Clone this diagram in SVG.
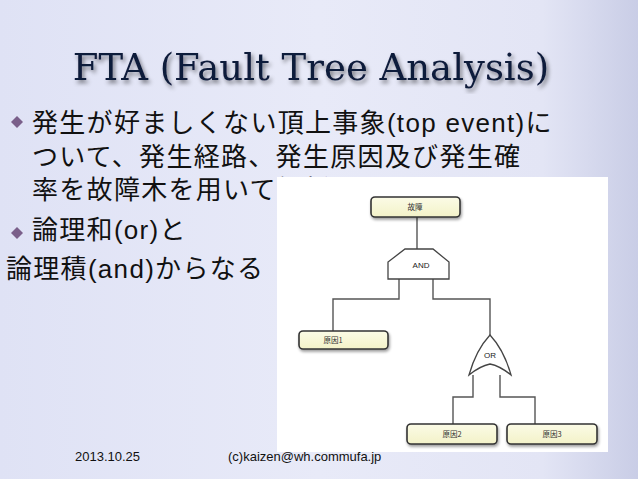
<svg xmlns="http://www.w3.org/2000/svg" width="638" height="479" viewBox="0 0 638 479">
<defs>
<linearGradient id="bg" x1="0" y1="0" x2="1" y2="0">
<stop offset="0" stop-color="#dfe2f5"/><stop offset="0.5" stop-color="#e8eaf8"/><stop offset="0.85" stop-color="#e3e5f5"/><stop offset="1" stop-color="#c9cde6"/>
</linearGradient>
<linearGradient id="box" x1="0" y1="0" x2="0" y2="1"><stop offset="0" stop-color="#fbfbe6"/><stop offset="1" stop-color="#f3f2c8"/></linearGradient>
<filter id="sh" x="-10%" y="-10%" width="130%" height="140%"><feGaussianBlur in="SourceAlpha" stdDeviation="1.5"/><feOffset dx="1" dy="2"/><feComponentTransfer><feFuncA type="linear" slope="0.4"/></feComponentTransfer><feMerge><feMergeNode/><feMergeNode in="SourceGraphic"/></feMerge></filter>
<filter id="tsh"><feGaussianBlur in="SourceAlpha" stdDeviation="2"/><feOffset dx="2" dy="3"/><feComponentTransfer><feFuncA type="linear" slope="0.5"/></feComponentTransfer><feMerge><feMergeNode/><feMergeNode in="SourceGraphic"/></feMerge></filter>
</defs>
<style>
.jp{font-family:"Liberation Sans","Noto Sans CJK JP",sans-serif;font-size:26px;fill:#111;letter-spacing:1.3px}
.box{fill:url(#box);stroke:#333;stroke-width:1.6;filter:url(#sh)}
.gate{fill:#fff;stroke:#444;stroke-width:1.3}
.lbl{font-family:"Noto Sans CJK JP",sans-serif;font-size:7.5px;fill:#333;text-anchor:middle}
.gl{font-family:"Liberation Sans",sans-serif;font-size:8px;fill:#222;text-anchor:middle}
.ln{fill:none;stroke:#555;stroke-width:1.4}
.ft{font-family:"Liberation Sans",sans-serif;font-size:13px;fill:#111}
</style>
<rect width="638" height="479" fill="url(#bg)"/>
<text x="311" y="80" text-anchor="middle" font-family="DejaVu Serif,serif" font-size="37" fill="#111a3a" filter="url(#tsh)">FTA (Fault Tree Analysis)</text>
<g class="jp">
<path d="M11 122 l6 -6 l6 6 l-6 6z" fill="#7a5f8a"/>
<text x="32" y="132">発生が好ましくない頂上事象(top event)に</text>
<text x="32" y="166">ついて、発生経路、発生原因及び発生確</text>
<text x="32" y="199">率を故障木を用いて解析</text>
<path d="M11 233 l6 -6 l6 6 l-6 6z" fill="#7a5f8a"/>
<text x="32" y="239">論理和(or)と</text>
<text x="6" y="278">論理積(and)からなる</text>
</g>
<rect x="277" y="177" width="331" height="275" fill="#fff"/>
<g id="connectors" class="ln">
<path d="M417 217 V249"/>
<path d="M399 279 V299 H333 V331"/>
<path d="M433 279 V299 H490 V335"/>
<path d="M473 375 V397 H453 V424"/>
<path d="M500 375 V397 H535 V424"/>
</g>
<g id="n-fault"><rect class="box" x="371" y="197" width="89" height="20" rx="4"/><text class="lbl" x="415" y="210">故障</text></g>
<g id="n-and"><path class="gate" d="M405 249 H433 L449 262 V279 H388 V262 Z"/><text class="gl" x="421" y="268">AND</text></g>
<g id="n-c1"><rect class="box" x="299" y="331" width="89" height="18" rx="4"/><text class="lbl" x="333" y="343">原因1</text></g>
<g id="n-or"><path class="gate" d="M490 335 Q476 350 469 375 Q480 366 490 364 Q500 366 511 375 Q504 350 490 335 Z"/><text class="gl" x="490" y="358">OR</text></g>
<g id="n-c2"><rect class="box" x="407" y="424" width="90" height="20" rx="4"/><text class="lbl" x="452" y="437">原因2</text></g>
<g id="n-c3"><rect class="box" x="507" y="424" width="90" height="20" rx="4"/><text class="lbl" x="552" y="437">原因3</text></g>
<text class="ft" x="75" y="461">2013.10.25</text>
<text class="ft" x="228" y="461">(c)kaizen@wh.commufa.jp</text>
</svg>
